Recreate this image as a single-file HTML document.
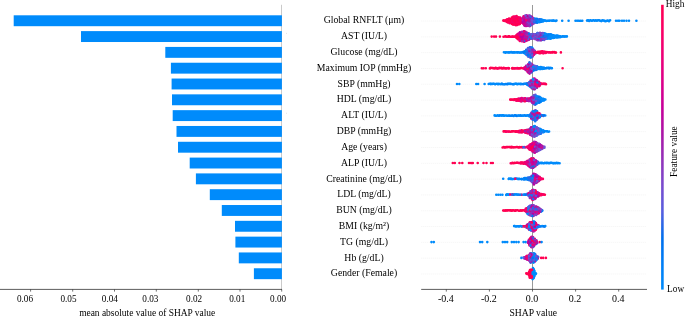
<!DOCTYPE html><html><head><meta charset="utf-8"><title>SHAP summary</title>
<style>html,body{margin:0;padding:0;background:#fff}svg{display:block}text{font-family:"Liberation Serif","DejaVu Serif",serif;fill:#000}</style></head><body>
<svg width="685" height="317" viewBox="0 0 685 317">
<rect width="685" height="317" fill="#fff"/>
<defs><linearGradient id="cb" x1="0" y1="0" x2="0" y2="1"><stop offset="0.000" stop-color="#ff0051"/><stop offset="0.091" stop-color="#fa0065"/><stop offset="0.182" stop-color="#ec0078"/><stop offset="0.273" stop-color="#db008a"/><stop offset="0.364" stop-color="#c5009a"/><stop offset="0.455" stop-color="#aa17a7"/><stop offset="0.545" stop-color="#9233b9"/><stop offset="0.636" stop-color="#794cce"/><stop offset="0.727" stop-color="#575fdf"/><stop offset="0.818" stop-color="#006fed"/><stop offset="0.909" stop-color="#007ef6"/><stop offset="1.000" stop-color="#008bfb"/></linearGradient></defs>
<line x1="281.5" y1="4.8" x2="281.5" y2="289.4" stroke="#c4c4c4" stroke-width="0.9"/>
<g id="bars" fill="#008bfb">
<rect x="13.7" y="15.30" width="268.2" height="10.9"/>
<rect x="81.0" y="31.11" width="200.9" height="10.9"/>
<rect x="165.3" y="46.92" width="116.6" height="10.9"/>
<rect x="170.9" y="62.73" width="111.0" height="10.9"/>
<rect x="171.6" y="78.54" width="110.3" height="10.9"/>
<rect x="172.0" y="94.35" width="109.9" height="10.9"/>
<rect x="172.7" y="110.16" width="109.2" height="10.9"/>
<rect x="176.5" y="125.97" width="105.4" height="10.9"/>
<rect x="178.0" y="141.78" width="103.9" height="10.9"/>
<rect x="189.7" y="157.59" width="92.2" height="10.9"/>
<rect x="195.9" y="173.40" width="86.0" height="10.9"/>
<rect x="209.8" y="189.21" width="72.1" height="10.9"/>
<rect x="221.8" y="205.02" width="60.1" height="10.9"/>
<rect x="235.0" y="220.83" width="46.9" height="10.9"/>
<rect x="235.4" y="236.64" width="46.5" height="10.9"/>
<rect x="238.8" y="252.45" width="43.1" height="10.9"/>
<rect x="253.9" y="268.26" width="28.0" height="10.9"/>
</g>
<line x1="0" y1="289.4" x2="282" y2="289.4" stroke="#333" stroke-width="0.8"/>
<line x1="281.7" y1="289.4" x2="281.7" y2="291.6" stroke="#333" stroke-width="0.7"/>
<text transform="translate(278.10 301.70) scale(1 1.160)" font-size="9.20" text-anchor="middle">0.00</text>
<line x1="240.0" y1="289.4" x2="240.0" y2="291.6" stroke="#333" stroke-width="0.7"/>
<text transform="translate(237.20 301.70) scale(1 1.160)" font-size="9.20" text-anchor="middle">0.01</text>
<line x1="198.3" y1="289.4" x2="198.3" y2="291.6" stroke="#333" stroke-width="0.7"/>
<text transform="translate(194.10 301.70) scale(1 1.160)" font-size="9.20" text-anchor="middle">0.02</text>
<line x1="156.3" y1="289.4" x2="156.3" y2="291.6" stroke="#333" stroke-width="0.7"/>
<text transform="translate(150.40 301.70) scale(1 1.160)" font-size="9.20" text-anchor="middle">0.03</text>
<line x1="114.5" y1="289.4" x2="114.5" y2="291.6" stroke="#333" stroke-width="0.7"/>
<text transform="translate(109.90 301.70) scale(1 1.160)" font-size="9.20" text-anchor="middle">0.04</text>
<line x1="72.7" y1="289.4" x2="72.7" y2="291.6" stroke="#333" stroke-width="0.7"/>
<text transform="translate(68.50 301.70) scale(1 1.160)" font-size="9.20" text-anchor="middle">0.05</text>
<line x1="30.6" y1="289.4" x2="30.6" y2="291.6" stroke="#333" stroke-width="0.7"/>
<text transform="translate(25.00 301.70) scale(1 1.160)" font-size="9.20" text-anchor="middle">0.06</text>
<text transform="translate(147.20 316.00) scale(1 1.060)" font-size="9.45" text-anchor="middle">mean absolute value of SHAP value</text>
<g fill="#c8c8c8"><rect x="286" y="32.9" width="0.7" height="0.7"/><rect x="286" y="112.8" width="0.7" height="0.7"/></g>
<text transform="translate(364.00 23.40) scale(1 1.085)" font-size="9.76" text-anchor="middle">Global RNFLT (μm)</text>
<text transform="translate(364.00 39.21) scale(1 1.085)" font-size="9.76" text-anchor="middle">AST (IU/L)</text>
<text transform="translate(364.00 55.02) scale(1 1.085)" font-size="9.76" text-anchor="middle">Glucose (mg/dL)</text>
<text transform="translate(364.00 70.83) scale(1 1.085)" font-size="9.76" text-anchor="middle">Maximum IOP (mmHg)</text>
<text transform="translate(364.00 86.64) scale(1 1.085)" font-size="9.76" text-anchor="middle">SBP (mmHg)</text>
<text transform="translate(364.00 102.45) scale(1 1.085)" font-size="9.76" text-anchor="middle">HDL (mg/dL)</text>
<text transform="translate(364.00 118.26) scale(1 1.085)" font-size="9.76" text-anchor="middle">ALT (IU/L)</text>
<text transform="translate(364.00 134.07) scale(1 1.085)" font-size="9.76" text-anchor="middle">DBP (mmHg)</text>
<text transform="translate(364.00 149.88) scale(1 1.085)" font-size="9.76" text-anchor="middle">Age (years)</text>
<text transform="translate(364.00 165.69) scale(1 1.085)" font-size="9.76" text-anchor="middle">ALP (IU/L)</text>
<text transform="translate(364.00 181.50) scale(1 1.085)" font-size="9.76" text-anchor="middle">Creatinine (mg/dL)</text>
<text transform="translate(364.00 197.31) scale(1 1.085)" font-size="9.76" text-anchor="middle">LDL (mg/dL)</text>
<text transform="translate(364.00 213.12) scale(1 1.085)" font-size="9.76" text-anchor="middle">BUN (mg/dL)</text>
<text transform="translate(364.00 228.93) scale(1 1.085)" font-size="9.76" text-anchor="middle">BMI (kg/m²)</text>
<text transform="translate(364.00 244.74) scale(1 1.085)" font-size="9.76" text-anchor="middle">TG (mg/dL)</text>
<text transform="translate(364.00 260.55) scale(1 1.085)" font-size="9.76" text-anchor="middle">Hb (g/dL)</text>
<text transform="translate(364.00 276.36) scale(1 1.085)" font-size="9.76" text-anchor="middle">Gender (Female)</text>
<g stroke="#dedede" stroke-width="0.5" stroke-dasharray="0.7 1.3">
<line x1="421.5" y1="21.00" x2="646" y2="21.00"/>
<line x1="421.5" y1="36.81" x2="646" y2="36.81"/>
<line x1="421.5" y1="52.62" x2="646" y2="52.62"/>
<line x1="421.5" y1="68.43" x2="646" y2="68.43"/>
<line x1="421.5" y1="84.24" x2="646" y2="84.24"/>
<line x1="421.5" y1="100.05" x2="646" y2="100.05"/>
<line x1="421.5" y1="115.86" x2="646" y2="115.86"/>
<line x1="421.5" y1="131.67" x2="646" y2="131.67"/>
<line x1="421.5" y1="147.48" x2="646" y2="147.48"/>
<line x1="421.5" y1="163.29" x2="646" y2="163.29"/>
<line x1="421.5" y1="179.10" x2="646" y2="179.10"/>
<line x1="421.5" y1="194.91" x2="646" y2="194.91"/>
<line x1="421.5" y1="210.72" x2="646" y2="210.72"/>
<line x1="421.5" y1="226.53" x2="646" y2="226.53"/>
<line x1="421.5" y1="242.34" x2="646" y2="242.34"/>
<line x1="421.5" y1="258.15" x2="646" y2="258.15"/>
<line x1="421.5" y1="273.96" x2="646" y2="273.96"/>
</g>
<line x1="532.5" y1="5" x2="532.5" y2="289.4" stroke="#999" stroke-width="1"/>
<g fill="none" stroke-linecap="round" stroke-width="2.60"><path d="M528.7 146.9h0M520.5 162.6h0M517.3 99.3h0M513.7 21.6h0M513.3 22.8h0M537.1 194.9h0M521.0 163.2h0M505.0 36.5h0M536.6 87.8h0M511.0 20.1h0M543.9 194.5h0M545.3 83.7h0M497.3 68.4h0M520.9 99.4h0M517.0 19.3h0M526.0 68.3h0M513.0 18.9h0M516.5 99.3h0M513.9 19.5h0M520.3 18.9h0M515.3 36.8h0M517.0 21.2h0M519.9 35.5h0M518.2 22.9h0M539.1 179.6h0M531.6 147.2h0M517.0 20.6h0M534.0 151.9h0M515.7 131.4h0M513.4 19.9h0M510.1 20.4h0M519.9 24.0h0M509.5 22.1h0M520.2 39.1h0M518.3 132.1h0M514.5 23.0h0M511.0 21.3h0M515.2 131.5h0M507.5 19.4h0M532.9 222.8h0M540.2 114.8h0M535.2 242.8h0" stroke="#fc0061"/><path d="M517.4 147.0h0M560.9 52.4h0M512.7 17.9h0M543.0 194.6h0M519.9 68.4h0M529.6 222.9h0M510.2 147.0h0M515.5 19.5h0M562.6 68.2h0M505.4 68.3h0M554.2 52.1h0M494.1 36.6h0M529.9 270.6h0M545.3 52.0h0M486.5 163.0h0M541.2 257.9h0M531.1 271.9h0M509.1 18.5h0M518.8 19.5h0M504.3 131.3h0M534.3 81.2h0M531.1 244.8h0M532.5 143.1h0M519.4 18.0h0M526.3 273.4h0M527.6 160.9h0M504.2 210.6h0M532.1 148.6h0M540.4 51.7h0M533.3 245.6h0M531.8 239.7h0M469.0 163.0h0M519.3 147.2h0M514.9 24.5h0M510.5 210.4h0M529.7 276.8h0M524.7 39.4h0M511.0 99.7h0M507.5 131.5h0M529.9 271.9h0M462.3 163.0h0M507.7 210.3h0M511.9 22.9h0M515.7 131.8h0M556.0 52.6h0M542.5 51.4h0M508.3 68.1h0M505.3 131.4h0M529.2 273.6h0M517.5 22.4h0M546.9 52.1h0M524.1 147.0h0M523.5 37.7h0M531.8 272.2h0" stroke="#ff0051"/><path d="M531.6 53.5h0M624.0 20.8h0M539.3 102.8h0M531.7 180.2h0M517.9 179.0h0M512.4 194.4h0M539.9 22.1h0M534.4 119.5h0M558.9 36.1h0M542.3 67.6h0M518.7 226.2h0M544.1 163.1h0M535.8 134.7h0M595.8 20.3h0M552.7 35.5h0M551.8 35.8h0M561.2 36.5h0M540.5 68.9h0M533.2 238.6h0M544.8 162.9h0M553.4 20.6h0M484.6 84.0h0M509.1 178.6h0M537.3 117.0h0M546.5 163.1h0M544.5 131.2h0M533.7 52.9h0M607.9 20.6h0M534.3 272.3h0M547.4 20.7h0M518.8 115.6h0M526.8 178.4h0M533.6 19.6h0M533.9 114.9h0M544.1 67.9h0M550.1 67.9h0M498.9 115.8h0M459.3 84.0h0M537.0 68.7h0M502.8 242.1h0M536.8 69.6h0M544.7 33.3h0M541.6 163.1h0M534.3 116.5h0M538.9 67.9h0M558.3 163.0h0M550.6 38.7h0M533.7 18.2h0M532.6 278.3h0M514.1 84.2h0M553.2 36.4h0M568.6 20.8h0M510.1 52.2h0M487.3 242.1h0M552.1 36.1h0M532.7 177.4h0M533.9 269.2h0M622.0 20.8h0M433.8 242.1h0M549.1 35.7h0M533.4 273.4h0M514.7 226.0h0M529.1 258.3h0M541.1 129.6h0M556.5 20.5h0M525.2 194.5h0M565.8 36.5h0M532.5 271.5h0M537.2 129.5h0M527.8 179.7h0M505.6 52.6h0M545.3 115.5h0M546.2 163.0h0M522.3 115.6h0M533.9 277.3h0M548.1 20.8h0M545.3 20.6h0M518.6 242.1h0M521.3 194.8h0M588.1 20.4h0M555.0 163.0h0M532.5 22.3h0M539.8 226.3h0M553.2 163.2h0M549.6 163.2h0M534.1 67.0h0M560.3 36.2h0M537.1 66.4h0M535.4 260.9h0M619.5 20.8h0M500.4 194.7h0M515.4 115.4h0M533.0 268.1h0M541.7 98.7h0M536.3 244.0h0M537.2 20.6h0M517.8 194.7h0M512.1 52.5h0M541.7 131.4h0" stroke="#008bfb"/><path d="M530.5 128.4h0M532.5 88.4h0M534.9 191.2h0M534.2 195.8h0M538.1 179.2h0M521.8 101.2h0M530.7 160.7h0M529.3 225.1h0M534.3 178.0h0M537.3 40.1h0M536.0 206.5h0M524.9 21.7h0M537.9 116.6h0M534.8 162.7h0M532.1 127.9h0M529.4 161.5h0M538.6 39.5h0M530.8 161.9h0M535.8 182.9h0M528.1 21.2h0M531.2 67.5h0M535.5 142.1h0M524.5 24.3h0M519.6 194.7h0M532.9 241.2h0M536.4 240.2h0M533.2 116.2h0M534.3 102.3h0M532.4 113.1h0M536.4 242.8h0M535.7 36.9h0M533.6 231.4h0M530.9 225.0h0M534.4 183.3h0" stroke="#a71aa9"/><path d="M532.1 83.0h0M529.5 131.0h0M531.2 166.4h0M530.2 25.9h0M529.3 242.4h0M528.3 49.8h0M533.2 167.7h0M541.3 37.1h0M541.5 115.1h0M533.2 144.9h0M531.9 177.6h0M536.6 35.9h0M527.2 36.1h0M537.3 117.6h0M525.7 34.8h0M530.0 22.8h0M529.9 18.5h0M539.4 176.7h0M531.5 36.0h0M536.9 119.5h0M537.0 87.7h0M533.1 211.8h0M542.3 147.8h0M536.9 148.9h0M529.1 16.5h0M525.9 17.6h0M525.1 38.3h0M531.3 85.5h0M539.0 195.5h0M534.3 104.1h0M531.9 50.3h0M525.1 147.5h0M536.4 148.9h0M530.9 228.3h0M530.7 165.4h0" stroke="#9430b6"/><path d="M530.2 21.4h0M533.2 35.0h0M530.1 134.7h0M538.2 85.2h0M531.8 97.8h0M534.0 194.5h0M528.4 208.9h0M522.1 20.9h0M523.2 98.9h0M527.7 18.4h0M533.7 149.3h0M538.7 148.9h0M529.2 24.0h0M530.9 149.7h0M531.4 196.8h0M536.3 114.4h0M532.9 52.9h0M535.3 142.8h0M534.7 238.8h0M525.5 68.4h0M532.7 84.5h0M528.4 212.4h0M524.4 25.6h0M535.6 228.5h0M521.8 34.0h0M524.2 25.2h0" stroke="#cd0095"/><path d="M529.5 53.2h0M535.7 53.2h0M537.2 20.2h0M527.6 177.8h0M536.3 117.2h0M528.4 257.9h0M541.4 36.3h0M530.7 262.7h0M532.2 71.3h0M533.9 254.4h0M539.3 129.6h0M536.7 162.0h0M537.3 97.3h0M537.6 226.0h0M535.6 38.4h0M536.2 128.1h0M543.4 115.9h0M537.9 161.9h0M527.5 194.9h0M535.5 67.9h0M526.3 19.1h0M527.2 83.3h0M534.9 133.1h0M536.2 112.5h0M534.8 222.0h0M534.9 101.4h0M536.9 212.6h0M532.1 261.7h0M533.8 37.3h0M531.8 48.5h0M531.8 257.1h0M531.8 225.6h0M530.7 213.3h0M531.0 191.2h0" stroke="#266cea"/><path d="M534.7 261.1h0M536.9 161.3h0M528.9 206.7h0M520.9 35.0h0M534.5 258.6h0M533.5 241.1h0M526.6 54.0h0M534.5 240.1h0M529.5 178.6h0M534.5 99.1h0M535.2 82.5h0M522.6 34.1h0M524.9 18.6h0M539.5 128.8h0M526.2 70.3h0M531.5 257.6h0M535.6 130.0h0M535.6 211.2h0M532.4 64.9h0M528.9 213.1h0M525.0 23.8h0M528.1 17.7h0M542.2 37.3h0M536.8 211.2h0M537.2 145.7h0M519.8 34.2h0M524.4 100.5h0M529.4 26.1h0M536.4 38.8h0M533.7 101.2h0M529.2 56.0h0M530.8 159.0h0M533.8 131.7h0M535.5 110.3h0" stroke="#8542c5"/><path d="M541.8 115.8h0M529.7 213.6h0M537.8 196.5h0M530.2 35.4h0M531.9 175.8h0M532.2 98.6h0M529.9 207.9h0M541.4 34.2h0M539.1 143.7h0M534.5 97.2h0M531.7 101.8h0M525.8 23.9h0M523.8 24.1h0M536.6 103.5h0M536.4 102.4h0M538.2 257.1h0M533.5 117.9h0M530.3 179.3h0M539.4 147.3h0M533.6 242.8h0M542.7 39.0h0M534.3 95.4h0M528.3 71.0h0M532.5 246.3h0M529.1 227.8h0M531.2 20.0h0M532.5 119.5h0M537.0 119.0h0M532.8 52.2h0M528.1 211.2h0M532.2 259.7h0" stroke="#6f52d4"/><path d="M535.4 51.8h0M521.2 21.9h0M537.6 192.3h0M529.0 37.5h0M527.9 242.7h0M535.4 147.9h0M530.2 205.9h0M530.9 193.0h0M533.0 130.5h0M535.3 166.2h0M534.6 194.0h0M530.8 22.1h0M534.6 53.6h0M532.4 194.1h0M519.3 100.6h0M526.6 99.6h0M527.2 161.3h0M530.2 19.6h0M535.7 181.0h0M530.8 261.0h0M526.5 15.4h0M534.9 88.8h0M537.8 258.5h0M525.4 19.0h0M534.8 226.1h0M534.9 241.8h0M537.1 209.8h0M535.9 195.4h0M533.4 215.9h0" stroke="#b900a0"/><path d="M533.8 51.1h0M530.7 70.2h0M530.9 194.4h0M530.4 148.8h0M528.4 256.1h0M532.6 229.9h0M520.2 100.1h0M536.2 181.4h0M528.0 33.4h0M525.3 99.6h0M523.6 20.4h0M525.5 257.2h0M539.8 179.8h0M535.4 225.3h0M525.8 41.0h0M529.8 160.8h0M538.0 118.2h0M522.1 22.4h0M539.1 86.2h0M526.4 147.1h0M530.8 68.4h0M537.9 84.2h0M534.6 146.5h0M523.9 100.9h0M522.3 19.9h0M529.7 159.6h0M532.6 164.0h0M532.4 198.3h0M525.9 226.1h0M535.7 79.9h0M538.2 82.0h0" stroke="#dd0088"/><path d="M541.5 100.7h0M535.7 256.0h0M524.1 52.9h0M537.5 256.6h0M535.7 260.2h0M541.3 19.6h0M540.4 20.1h0M537.2 35.4h0M539.7 67.9h0M543.1 68.8h0M509.7 115.8h0M524.3 115.4h0M533.5 117.1h0M531.3 229.6h0M530.4 212.5h0M540.8 38.3h0M513.2 52.4h0M532.3 208.0h0M519.3 84.0h0M521.7 84.0h0M534.9 85.7h0M537.1 19.2h0M542.9 131.2h0M548.1 68.0h0M523.6 84.0h0M532.8 258.7h0M540.6 100.9h0M539.9 19.3h0M533.9 81.8h0M540.8 67.1h0M519.1 178.9h0M531.9 179.2h0M543.5 67.9h0M530.2 180.0h0M528.5 179.1h0M535.8 224.4h0M529.2 241.5h0M523.9 178.6h0M528.7 51.9h0M542.1 115.4h0" stroke="#0081f7"/><path d="M526.0 39.6h0M527.3 225.1h0M534.7 180.9h0M530.4 166.0h0M519.0 38.8h0M524.1 163.5h0M524.6 38.5h0M537.9 115.7h0M523.2 23.5h0M523.9 32.6h0M534.4 194.9h0M531.2 81.7h0" stroke="#e9007c"/><path d="M530.7 84.3h0M539.9 179.2h0M530.7 162.8h0M531.1 246.3h0M538.9 114.1h0M520.0 98.7h0M534.5 128.8h0M517.4 34.2h0M529.5 148.7h0M536.2 196.7h0M531.0 258.0h0M533.7 175.5h0M519.5 132.2h0M513.1 194.6h0M518.4 39.5h0M537.3 196.1h0M520.3 20.8h0" stroke="#f4006e"/><path d="M535.9 22.6h0M541.8 148.9h0M545.9 36.3h0M534.6 69.4h0M543.3 33.4h0M534.6 133.8h0M537.0 83.2h0M535.1 224.1h0M533.2 165.1h0M528.3 56.7h0M530.4 206.5h0M531.3 70.1h0M531.8 35.1h0M533.8 178.6h0M533.0 48.9h0M534.5 165.3h0M538.3 131.9h0M536.3 259.9h0M530.5 54.0h0M531.1 36.4h0M530.9 55.3h0M537.2 101.6h0M539.6 210.2h0" stroke="#5261e1"/><path d="M532.5 117.7h0M534.6 229.3h0M535.5 95.7h0M527.4 193.9h0M546.7 34.3h0M539.5 132.2h0M531.0 176.7h0M546.0 35.3h0M531.7 205.4h0M536.1 212.6h0M528.9 115.8h0M533.7 115.2h0M526.6 55.0h0M532.3 70.4h0M530.1 241.7h0M529.3 129.6h0M541.9 130.9h0M535.9 67.3h0M530.2 129.0h0M540.8 226.5h0" stroke="#0077f2"/><path d="M536.0 132.0h0M532.9 34.1h0M529.2 35.9h0M524.7 34.7h0M538.2 38.3h0M526.3 257.3h0M534.5 178.7h0M522.6 100.7h0M538.5 178.2h0M527.8 17.3h0M524.5 16.0h0M529.8 243.7h0M534.8 176.1h0M535.0 165.6h0M532.9 136.2h0M521.7 100.4h0M533.1 181.4h0M534.7 136.6h0M534.5 164.2h0M527.0 209.9h0M531.2 53.6h0M537.8 33.9h0M531.2 21.1h0M536.9 39.2h0M527.8 66.1h0M530.8 208.4h0M535.2 208.9h0M528.2 19.2h0M535.5 83.5h0M535.4 146.0h0M537.8 210.1h0M533.4 205.4h0M531.2 255.8h0" stroke="#9430b6"/><path d="M532.6 99.6h0M528.3 256.8h0M529.4 22.3h0M535.5 150.3h0M535.4 148.5h0M525.4 25.9h0M527.6 164.0h0M532.7 85.4h0M528.9 160.9h0M528.2 53.0h0M526.4 259.1h0M531.9 88.1h0M537.5 175.8h0M533.5 192.7h0M531.2 16.5h0M527.2 162.6h0M535.6 87.0h0M531.6 241.9h0M532.5 151.5h0M534.5 79.7h0M528.1 99.5h0M529.0 164.3h0M531.7 236.7h0M526.1 98.7h0M532.3 166.7h0M536.8 37.8h0M529.1 69.1h0M529.3 259.3h0M528.4 228.3h0M536.6 179.8h0M537.5 146.1h0M534.5 197.1h0M532.3 214.7h0M535.8 208.3h0" stroke="#a71aa9"/><path d="M534.4 174.0h0M531.3 146.3h0M528.9 64.3h0M530.8 69.0h0M533.2 239.6h0M531.6 214.7h0M534.0 214.7h0M521.9 130.9h0M530.8 145.2h0M522.1 37.2h0M528.3 36.8h0M530.1 260.9h0M531.3 211.5h0M526.4 35.3h0M526.5 69.0h0M542.3 194.3h0M534.5 225.1h0" stroke="#e9007c"/><path d="M533.2 134.8h0M536.7 134.0h0M526.7 210.9h0M525.4 23.0h0M530.8 47.4h0M538.2 133.6h0M530.2 244.7h0M532.7 82.5h0M537.2 130.7h0M528.4 211.1h0M537.6 146.6h0M535.7 101.6h0M527.4 50.7h0M528.2 51.1h0M527.0 194.4h0M534.9 69.7h0M532.0 82.2h0M536.7 213.4h0M540.6 33.6h0M528.0 48.0h0M529.8 56.9h0M534.1 112.6h0M526.4 21.1h0M527.8 226.5h0M535.4 94.8h0" stroke="#5261e1"/><path d="M533.0 176.4h0M540.5 209.8h0M533.6 128.4h0M533.0 86.7h0M526.1 36.8h0M531.1 19.3h0M527.3 55.2h0M536.7 112.3h0M536.5 82.5h0M524.8 19.8h0M530.9 83.7h0M524.6 17.8h0M532.2 102.8h0M533.4 214.8h0M537.0 115.0h0M529.2 49.6h0M537.4 181.8h0M526.5 38.6h0M530.3 159.9h0M537.0 80.3h0M523.3 21.6h0M534.7 199.1h0M534.8 53.0h0M534.3 66.0h0M526.7 34.1h0M539.9 39.1h0M536.5 227.4h0M533.1 179.6h0M536.0 114.9h0M535.5 149.6h0M535.5 34.2h0M527.6 129.7h0M540.1 208.9h0" stroke="#8542c5"/><path d="M566.9 36.4h0M519.2 226.5h0M532.9 83.4h0M532.7 225.6h0M578.9 20.8h0M538.1 128.3h0M527.7 49.4h0M543.5 20.9h0M536.5 163.3h0M502.1 115.4h0M535.3 178.1h0M511.8 242.1h0M516.8 178.6h0M604.6 20.9h0M506.5 52.3h0M529.4 195.9h0M536.0 273.6h0M541.0 99.8h0M508.5 194.5h0M517.6 52.5h0M549.6 35.5h0M534.9 19.0h0M505.3 52.5h0M548.5 131.7h0M532.6 270.5h0M530.9 117.0h0M542.7 38.0h0M546.8 131.2h0M534.5 271.0h0M592.5 20.6h0M544.2 35.4h0M506.5 115.6h0M508.7 179.0h0M516.3 242.1h0M529.5 116.4h0M532.6 279.1h0M543.1 21.5h0M533.3 113.1h0M536.9 114.2h0M532.4 111.6h0M508.7 52.3h0M555.7 21.0h0M532.8 118.1h0M505.3 115.5h0M457.0 84.0h0M503.5 115.5h0M582.3 20.8h0M601.3 21.1h0M503.2 178.8h0M636.4 20.8h0M535.4 116.0h0M556.7 162.8h0M618.0 20.8h0M540.4 68.4h0M538.0 99.9h0M537.6 96.5h0M549.1 131.5h0M541.0 35.8h0M541.2 211.6h0M547.4 162.9h0M551.4 162.8h0M543.6 100.4h0M545.8 131.2h0M554.0 36.7h0M513.3 84.1h0M508.6 83.9h0M488.7 84.0h0M498.6 115.7h0M495.5 115.8h0M551.6 34.9h0M535.4 273.0h0M533.5 275.3h0M542.1 131.9h0M510.9 178.6h0M593.6 20.3h0M527.4 54.1h0M600.2 20.7h0M533.9 180.6h0M528.3 84.1h0M580.6 20.8h0M532.5 210.7h0M552.5 37.2h0M532.6 212.0h0M526.3 115.8h0M516.9 115.9h0M540.8 101.8h0M431.5 242.1h0M547.2 35.7h0M534.6 128.1h0M589.2 20.9h0M517.5 84.2h0M547.0 38.7h0M553.3 35.4h0M533.1 119.8h0M532.7 269.3h0M532.8 273.3h0M610.1 20.3h0M514.1 52.3h0M480.0 242.1h0M533.4 246.8h0" stroke="#008bfb"/><path d="M517.2 35.5h0M504.5 68.2h0M530.1 272.8h0M531.6 271.1h0M536.0 143.6h0M514.9 23.5h0M521.0 68.0h0M539.9 242.1h0M520.8 210.4h0M513.4 147.3h0M529.4 275.4h0M521.3 163.3h0M506.1 68.4h0M516.4 147.0h0M537.2 194.3h0M529.3 244.4h0M505.7 36.3h0M546.0 84.2h0M530.7 269.8h0M522.0 147.0h0M513.7 16.9h0M483.5 163.0h0M504.3 147.3h0M529.8 277.7h0M504.8 20.9h0M530.7 272.9h0M499.3 67.9h0M523.9 226.2h0M503.5 36.7h0M531.5 272.8h0M509.4 147.1h0M538.4 181.3h0M530.9 194.9h0M509.0 68.4h0M520.7 35.8h0M508.5 21.8h0M491.0 163.0h0M509.3 131.5h0M510.4 19.4h0M506.5 36.8h0M496.0 36.6h0M508.9 210.2h0M515.6 25.1h0M499.7 68.3h0M515.0 99.9h0M521.3 68.0h0M530.1 239.7h0M516.6 16.1h0M502.5 68.4h0M512.4 19.6h0M533.7 196.6h0M541.7 83.8h0M552.6 52.1h0M535.3 84.3h0M540.0 195.2h0M536.0 229.6h0M541.1 195.1h0M544.5 83.9h0M452.8 163.0h0M533.3 224.8h0M532.6 114.6h0M539.8 85.4h0M516.4 37.8h0M540.1 84.2h0M518.0 68.4h0M489.9 68.4h0M532.5 149.6h0M521.3 210.6h0M549.4 52.3h0M515.7 36.0h0M492.1 68.0h0M516.5 23.0h0M531.6 273.4h0" stroke="#ff0051"/><path d="M533.7 253.2h0M538.5 226.8h0M524.8 179.2h0M530.4 177.3h0M532.0 226.9h0M535.3 18.9h0M545.4 68.2h0M540.5 98.6h0M515.8 83.8h0M533.7 213.7h0M523.2 84.0h0M533.7 87.6h0M539.8 100.3h0M507.4 83.9h0M537.1 111.4h0M546.2 34.1h0M541.6 19.9h0M540.9 131.5h0M536.8 210.7h0M538.4 21.0h0M533.8 89.1h0M544.6 34.2h0M536.0 151.7h0M524.7 83.8h0M533.8 259.0h0M532.7 240.4h0" stroke="#0081f7"/><path d="M534.2 197.5h0M530.2 228.1h0M521.0 20.8h0M524.8 16.9h0M531.4 37.9h0M528.2 64.4h0M532.8 102.7h0M531.7 176.8h0M526.7 26.0h0M523.1 21.0h0M530.3 164.6h0M532.5 145.0h0M526.1 162.9h0M527.3 100.7h0M531.6 97.0h0M530.9 227.1h0M537.0 146.7h0M522.9 18.8h0M534.1 141.9h0M526.8 164.3h0M539.9 115.5h0M534.5 78.6h0M538.3 195.2h0M538.7 116.3h0M533.4 143.1h0M534.7 80.3h0M525.7 130.2h0" stroke="#cd0095"/><path d="M507.2 68.3h0M522.6 147.4h0M532.7 200.0h0M514.8 18.7h0M518.2 36.0h0M506.8 19.5h0M513.8 24.5h0M523.9 130.7h0M510.5 21.5h0M509.7 19.4h0M524.4 162.5h0M543.6 83.8h0M539.3 53.2h0M529.8 146.0h0M519.5 99.6h0M516.5 18.4h0M507.6 20.2h0M544.6 51.8h0M537.6 52.4h0M532.6 256.1h0M545.6 53.0h0M515.8 20.4h0M513.6 22.9h0M520.2 20.0h0M526.4 130.1h0M517.7 36.6h0M508.6 131.6h0" stroke="#fc0061"/><path d="M534.6 130.8h0M527.3 51.5h0M534.7 257.1h0M533.2 21.5h0M529.1 48.8h0M544.6 38.5h0M540.2 133.8h0M542.3 35.3h0M534.9 192.4h0M530.1 50.1h0M528.3 53.6h0M531.2 213.7h0M533.7 99.5h0M534.2 113.5h0M533.1 20.1h0M529.5 54.2h0M535.1 100.9h0M535.8 70.0h0M532.0 49.4h0M535.6 98.2h0M529.2 177.6h0M530.9 87.2h0M528.1 85.2h0M538.8 38.5h0" stroke="#266cea"/><path d="M531.5 245.7h0M532.7 150.4h0M536.8 178.6h0M531.3 98.3h0M530.7 86.1h0M533.5 257.8h0M532.0 165.2h0M531.6 244.6h0M528.5 194.9h0M535.1 190.2h0M534.0 80.6h0M531.0 133.6h0M521.1 34.1h0M530.8 256.7h0M527.3 69.4h0M535.5 145.0h0M533.0 206.1h0M536.2 150.9h0M532.2 228.3h0M536.7 176.2h0M529.7 163.7h0M528.4 133.3h0M531.3 145.4h0M529.1 71.3h0M529.8 256.5h0M528.5 98.9h0M534.7 196.1h0M528.1 35.9h0" stroke="#dd0088"/><path d="M536.0 38.0h0M516.3 115.8h0M530.3 55.4h0M533.6 261.4h0M543.9 226.4h0M539.4 211.2h0M541.0 133.4h0M537.3 209.0h0M545.2 38.8h0M538.3 212.0h0M542.2 210.4h0M539.6 37.4h0M511.9 115.8h0M538.4 98.2h0M538.4 98.8h0M530.0 114.7h0M530.8 51.7h0M542.8 226.3h0M532.5 206.9h0M538.6 163.2h0M533.5 112.3h0M533.2 131.3h0" stroke="#0077f2"/><path d="M535.2 160.8h0M536.1 242.0h0M534.4 142.5h0M534.0 191.9h0M529.1 63.3h0M530.9 65.5h0M540.5 149.6h0M528.9 100.0h0M533.6 174.5h0M534.0 135.3h0M533.8 222.6h0M529.1 67.2h0M526.6 227.7h0M531.9 56.0h0M532.9 230.8h0M535.4 254.6h0M538.1 113.5h0M532.0 255.8h0M519.4 33.8h0M540.4 37.6h0M532.6 259.8h0M542.4 39.7h0M534.1 129.5h0M527.5 211.8h0M533.0 127.0h0M531.6 255.3h0M530.0 242.4h0M523.6 17.3h0M531.2 181.2h0M529.5 196.3h0M535.0 208.2h0M540.0 40.2h0M534.0 224.2h0M537.5 163.8h0M534.0 23.2h0M528.2 24.8h0M526.2 211.8h0M527.3 16.6h0M530.1 257.3h0M531.4 50.6h0M538.4 40.2h0M535.5 151.7h0" stroke="#6f52d4"/><path d="M534.9 212.9h0M525.8 40.2h0M531.3 159.4h0M519.2 34.4h0M533.9 255.2h0M529.7 64.8h0M536.8 182.5h0M526.2 164.1h0M528.9 17.3h0M528.7 34.7h0M534.2 145.7h0M528.3 193.9h0M528.9 65.1h0M533.1 69.9h0M537.7 128.9h0M529.3 257.7h0M535.4 144.2h0M541.6 146.5h0M534.5 85.0h0M537.5 84.4h0M533.1 196.9h0M534.2 35.5h0M538.5 225.4h0M530.2 98.2h0M533.2 228.7h0M529.0 100.9h0M534.0 159.2h0M529.1 39.6h0M530.8 66.6h0M533.1 192.4h0M536.6 180.5h0M531.3 131.3h0" stroke="#b900a0"/><path d="M521.3 37.8h0M531.3 132.4h0M537.7 148.8h0M518.8 21.3h0M523.2 131.6h0M517.9 19.5h0M510.9 19.4h0M525.5 36.8h0M523.7 23.4h0M515.6 99.5h0M531.4 150.2h0M520.9 22.7h0M513.8 18.6h0M512.1 21.4h0M529.4 162.5h0M534.0 82.4h0M529.4 215.0h0M519.0 37.7h0" stroke="#f4006e"/><path d="M539.0 114.6h0M538.7 207.9h0M534.3 87.5h0M532.6 68.7h0M543.3 39.5h0M533.4 165.9h0M538.1 36.8h0M536.2 97.1h0M511.7 194.6h0M538.1 114.7h0M532.6 37.1h0M537.4 33.1h0M529.0 85.4h0M533.2 67.9h0M534.5 182.4h0M540.5 33.2h0M526.0 209.9h0M540.0 35.4h0M533.0 55.0h0M531.2 207.4h0M532.3 67.5h0M534.3 21.7h0M536.7 135.8h0M531.1 253.3h0M534.1 134.2h0M526.2 49.8h0M529.3 207.0h0M530.2 210.6h0M532.6 227.9h0M548.2 35.3h0M530.2 130.9h0M538.9 34.1h0M543.5 37.5h0" stroke="#266cea"/><path d="M535.2 210.8h0M543.0 53.3h0M531.8 242.6h0M481.8 68.2h0M517.7 20.3h0M532.8 197.9h0M525.2 163.1h0M519.0 210.7h0M530.8 237.7h0M499.9 36.6h0M541.6 178.7h0M527.2 273.9h0M550.9 52.6h0M512.1 36.7h0M491.7 36.6h0M529.1 162.7h0M516.0 17.5h0M518.3 35.3h0M512.1 210.6h0M524.1 131.6h0M535.7 165.3h0M503.8 147.0h0M511.0 21.9h0M540.9 83.6h0M534.7 239.5h0M538.9 81.8h0M512.4 162.8h0M531.1 276.9h0M528.8 272.9h0M517.8 131.2h0M513.0 131.4h0M517.0 131.7h0M523.0 210.2h0M525.3 163.8h0M534.1 227.5h0M533.8 242.0h0M515.5 147.2h0M531.7 275.5h0M515.3 68.2h0M552.1 52.4h0M514.5 36.8h0M513.2 210.3h0M492.8 163.0h0M521.4 162.6h0M513.9 131.2h0M515.3 210.7h0M530.6 274.6h0M524.9 226.4h0M525.6 132.6h0M511.1 147.5h0M517.7 17.6h0M533.5 146.9h0M530.9 274.0h0M512.0 24.0h0M529.2 271.7h0M528.9 274.8h0M545.9 257.9h0M516.5 22.0h0M541.3 179.3h0M511.8 163.2h0M529.0 193.1h0M512.1 131.3h0M530.3 83.4h0M538.1 193.4h0M511.2 18.7h0M459.5 163.0h0M509.9 210.3h0M533.7 145.5h0M521.5 130.4h0M519.5 130.8h0M513.1 20.8h0M518.6 131.1h0M526.9 209.0h0M483.6 68.2h0M515.1 18.0h0M515.9 100.1h0" stroke="#ff0051"/><path d="M534.7 126.8h0M529.6 211.2h0M538.5 19.8h0M533.5 260.6h0M534.3 100.0h0M533.7 85.4h0M538.9 97.9h0M543.9 115.3h0M536.8 18.9h0M536.7 67.4h0M529.8 35.9h0M541.7 40.0h0M535.8 21.4h0M531.2 178.6h0M535.6 259.2h0M534.0 132.4h0M536.4 21.6h0M531.3 115.5h0M530.3 207.6h0M533.4 118.9h0M521.5 38.2h0M539.5 131.6h0M537.2 193.1h0M529.9 196.0h0M534.9 129.9h0M536.6 195.5h0M521.4 52.5h0M540.3 101.2h0M540.9 130.8h0" stroke="#0077f2"/><path d="M528.9 239.7h0M534.6 89.2h0M536.2 256.0h0M536.0 80.7h0M533.8 177.5h0M533.0 127.8h0M530.2 258.4h0M533.6 147.6h0M535.9 142.6h0M535.6 128.1h0M533.5 173.7h0M533.0 195.9h0M531.2 118.4h0M531.2 24.4h0M532.5 210.2h0M538.3 39.1h0M532.1 23.7h0M527.2 24.6h0M524.7 35.8h0M534.0 161.2h0M531.3 209.2h0M526.8 22.1h0M523.9 35.8h0M526.7 100.8h0M536.2 145.9h0M520.1 99.5h0M525.7 19.9h0M538.1 83.0h0M537.6 145.1h0M535.7 207.1h0M532.1 131.5h0M532.1 81.1h0M524.4 258.4h0M523.9 41.0h0M533.2 134.4h0M534.0 209.3h0M534.2 163.2h0M524.3 41.8h0M523.5 35.1h0M536.6 81.8h0M531.1 127.4h0" stroke="#b900a0"/><path d="M530.3 226.5h0M533.6 103.9h0M537.8 33.1h0M532.3 56.7h0M535.1 114.4h0M531.1 100.5h0M528.4 35.5h0M537.6 132.3h0M543.3 147.5h0M528.8 38.3h0M531.2 34.6h0M525.5 226.7h0M535.2 104.7h0M538.0 144.3h0M539.9 34.1h0M532.8 128.5h0M526.4 24.8h0M539.3 134.0h0M531.7 65.0h0M525.9 52.8h0M535.3 102.7h0M534.2 115.6h0M532.9 261.4h0M535.7 81.0h0" stroke="#5261e1"/><path d="M526.0 162.1h0M523.5 40.1h0M521.9 132.4h0M523.5 41.4h0M521.8 99.1h0M528.1 147.8h0M519.3 98.9h0M519.4 36.4h0M521.9 194.8h0M530.7 80.6h0M523.5 37.2h0M531.2 192.3h0M539.4 113.3h0M530.0 222.2h0M524.0 67.9h0M534.1 144.3h0M518.5 98.5h0M537.0 35.9h0M521.1 32.9h0M528.2 22.4h0M534.7 160.0h0M534.8 164.2h0M521.1 132.0h0" stroke="#e9007c"/><path d="M517.0 52.3h0M529.0 84.3h0M548.3 37.3h0M543.2 132.2h0M540.1 102.0h0M534.9 259.8h0M550.6 37.7h0M534.2 228.4h0M527.1 84.6h0M538.8 117.6h0M512.4 115.5h0M532.8 81.4h0M527.9 115.4h0M545.9 36.7h0M536.4 68.0h0M510.2 84.0h0M524.4 40.4h0M533.0 80.7h0M520.5 115.3h0M525.8 179.1h0M532.8 260.6h0M538.1 68.2h0M503.0 84.3h0M538.0 133.1h0M531.5 246.7h0M549.6 37.7h0M542.0 37.8h0M521.4 115.8h0M543.6 99.0h0M537.0 98.2h0" stroke="#0081f7"/><path d="M515.5 178.6h0M524.7 52.3h0M540.7 36.4h0M559.4 36.3h0M536.5 37.3h0M508.0 52.5h0M534.3 111.7h0M528.6 55.8h0M587.0 20.6h0M537.9 67.4h0M536.3 100.5h0M616.0 20.8h0M555.1 37.0h0M516.2 194.6h0M534.4 257.6h0M559.8 37.2h0M564.8 36.4h0M520.4 226.0h0M496.3 194.7h0M541.6 242.1h0M534.5 37.4h0M516.5 194.4h0M557.3 35.9h0M533.5 70.5h0M562.2 20.8h0M497.9 84.3h0M555.9 37.3h0M542.5 100.6h0M549.7 20.6h0M512.0 179.1h0M563.1 36.4h0M494.0 83.8h0M551.8 20.8h0M535.3 257.9h0M544.3 99.5h0M534.6 275.0h0M533.7 278.1h0M626.5 20.8h0M543.6 20.2h0M533.8 213.0h0M504.2 115.7h0M543.9 68.8h0M532.8 239.2h0M533.6 272.2h0M476.3 84.0h0M492.3 84.0h0M536.8 194.9h0M548.4 67.9h0M538.1 101.6h0M509.8 194.5h0M533.6 182.5h0M551.5 68.0h0M536.6 207.3h0M534.6 83.3h0M552.2 37.9h0M554.4 20.7h0M509.3 52.5h0M542.2 226.0h0M517.6 226.2h0M506.2 194.9h0M489.7 83.8h0M511.2 52.1h0M540.0 68.9h0M524.2 194.6h0M552.9 20.6h0M546.9 67.9h0M534.6 273.1h0M553.8 163.1h0M534.5 276.1h0M514.3 178.9h0M529.4 225.7h0M530.3 259.1h0M539.1 98.8h0M539.3 22.0h0M542.9 98.7h0M518.4 52.2h0M507.2 242.1h0M554.4 37.8h0M564.3 36.8h0M551.2 20.5h0M537.5 210.8h0M520.0 179.0h0M549.0 20.7h0M490.7 84.1h0M539.3 20.7h0M518.2 194.6h0M532.4 212.9h0M501.5 83.9h0M542.4 100.0h0" stroke="#008bfb"/><path d="M519.8 40.9h0M513.2 21.4h0M520.2 17.6h0M516.6 35.3h0M542.0 51.6h0M508.3 22.4h0M523.7 68.4h0M519.3 19.0h0M516.0 23.3h0M512.2 18.7h0M533.3 158.2h0M517.2 68.1h0M508.9 20.5h0M518.2 18.1h0M505.8 131.7h0M530.6 147.4h0M528.8 145.8h0M518.6 17.2h0M521.0 101.3h0M506.5 20.6h0M540.7 84.3h0M514.8 16.5h0M533.3 151.3h0M522.8 130.7h0M516.6 68.4h0M513.3 23.8h0M520.1 163.3h0M518.7 163.0h0M543.8 51.7h0M532.2 130.4h0M516.0 22.5h0" stroke="#fc0061"/><path d="M539.7 114.7h0M532.7 35.2h0M537.0 177.7h0M530.7 255.2h0M539.1 37.3h0M522.6 37.9h0M532.7 65.9h0M527.8 38.2h0M532.9 100.9h0M525.6 258.7h0M537.5 213.8h0M527.5 98.5h0M523.3 38.9h0M528.0 25.7h0M534.8 261.6h0M529.4 209.2h0M528.3 131.2h0M538.7 130.2h0M527.1 258.9h0M525.8 21.7h0M536.2 257.7h0M529.7 82.5h0M536.4 117.9h0M522.1 31.8h0M534.2 152.5h0M526.9 66.9h0M527.5 34.2h0M535.3 118.9h0M536.8 225.5h0M537.3 179.4h0M531.2 210.7h0M534.7 50.9h0" stroke="#a71aa9"/><path d="M534.0 210.8h0M543.6 35.8h0M529.9 25.1h0M533.8 198.9h0M533.1 237.3h0M534.4 98.3h0M531.3 99.4h0M531.1 17.1h0M527.4 22.3h0M523.4 98.6h0M536.7 206.9h0M535.6 194.4h0M534.0 161.9h0M527.9 68.2h0M534.4 212.0h0M532.2 69.8h0M536.2 211.9h0M528.5 227.2h0M530.4 224.4h0M529.9 15.9h0M529.0 18.3h0M533.4 208.9h0M529.1 229.7h0M536.2 213.8h0M527.1 258.0h0M532.1 85.6h0M542.5 148.4h0M531.5 215.6h0M528.5 83.0h0M527.6 224.4h0M528.7 23.1h0M529.9 197.9h0M536.3 35.3h0M530.8 134.4h0M533.9 133.6h0M523.9 99.3h0" stroke="#9430b6"/><path d="M530.7 239.7h0M529.1 260.6h0M531.0 197.9h0M531.5 117.3h0M531.0 63.7h0M537.2 164.7h0M534.5 176.8h0M536.0 164.7h0M534.0 215.2h0M532.5 205.1h0M532.2 18.0h0M532.1 86.9h0M526.6 16.7h0M530.1 193.6h0M536.5 129.0h0M539.0 115.9h0M535.5 39.3h0M533.6 148.6h0M530.5 52.1h0M531.7 19.6h0M533.6 35.8h0M536.9 147.5h0M529.3 240.8h0M533.2 189.7h0M536.1 68.8h0M535.1 113.3h0" stroke="#8542c5"/><path d="M531.2 23.0h0M524.1 22.5h0M536.6 214.1h0M532.7 241.8h0M532.3 243.0h0M536.8 208.8h0M531.7 163.4h0M531.4 247.1h0M530.9 259.0h0M525.4 100.9h0M529.6 73.6h0M535.7 161.7h0M522.7 39.7h0M535.0 152.6h0M531.4 135.2h0M541.0 210.5h0M537.0 258.1h0M534.2 226.5h0M530.5 238.5h0M528.5 66.6h0M529.4 23.4h0M533.9 166.9h0M526.6 22.9h0M520.9 18.8h0M534.1 245.7h0M525.2 39.1h0M533.6 162.8h0M532.1 190.2h0" stroke="#cd0095"/><path d="M531.9 243.6h0M533.3 194.0h0M533.4 183.1h0M538.9 210.2h0M530.5 191.3h0M533.5 21.2h0M535.1 227.4h0M531.7 161.5h0M532.3 182.3h0M530.7 163.7h0M533.6 65.6h0M536.3 66.5h0M533.5 181.1h0M532.9 209.7h0M538.0 163.2h0M528.8 36.6h0M532.0 38.5h0M543.5 146.8h0M537.6 225.1h0M535.3 99.6h0M530.4 229.5h0M537.9 149.7h0M539.0 38.0h0M531.8 178.3h0M544.2 39.9h0M532.9 133.3h0M535.8 127.0h0M533.8 225.2h0" stroke="#6f52d4"/><path d="M524.6 68.9h0M532.4 206.1h0M539.0 194.4h0M530.6 240.6h0M528.4 224.5h0M530.6 167.4h0M536.6 144.6h0M535.4 243.7h0M532.1 144.1h0M534.1 118.4h0M541.3 147.5h0M532.0 166.0h0M531.4 148.9h0M540.1 178.2h0M527.9 212.6h0" stroke="#dd0088"/><path d="M531.6 114.4h0M538.1 86.0h0M535.8 226.1h0M527.9 208.0h0M541.7 194.9h0M536.5 226.5h0M523.2 162.7h0M521.9 18.9h0M532.0 199.1h0M532.6 237.0h0M520.2 22.6h0M521.8 131.7h0M532.5 145.9h0M528.6 147.9h0M518.2 38.7h0M523.1 39.2h0M535.8 197.5h0M537.0 241.5h0M529.8 146.8h0M542.4 146.5h0" stroke="#f4006e"/><path d="M509.6 21.3h0M513.1 99.7h0M517.8 162.8h0M520.3 132.3h0M542.9 178.9h0M508.7 36.4h0M501.7 68.3h0M520.9 40.1h0M529.4 147.7h0M511.4 36.7h0M523.7 100.3h0M517.2 162.8h0M543.0 83.9h0M542.1 52.8h0M526.1 211.0h0M508.6 19.3h0M513.1 16.8h0M522.4 162.5h0M506.0 21.2h0M526.4 132.8h0M517.4 100.4h0M514.0 23.5h0M537.7 211.7h0M507.5 22.2h0M518.4 22.2h0M519.2 22.7h0M515.7 21.1h0" stroke="#fc0061"/><path d="M526.4 17.2h0M538.2 180.3h0M530.0 227.5h0M538.7 193.9h0M523.0 23.0h0M531.2 179.9h0M526.2 33.6h0M525.6 17.0h0M527.6 257.0h0M534.1 207.5h0M531.3 237.6h0M525.7 37.7h0M525.4 69.5h0M532.1 230.4h0M531.1 164.6h0M534.1 206.1h0M532.2 147.6h0M535.0 179.9h0M527.4 20.3h0M523.6 18.5h0M530.6 225.6h0M535.0 116.8h0M539.1 35.0h0M525.4 24.9h0M536.0 146.9h0M534.1 243.7h0M530.3 17.7h0M536.7 113.4h0M524.4 257.4h0M521.3 38.8h0M524.5 22.9h0M535.7 180.2h0M535.9 176.6h0M526.2 38.0h0" stroke="#cd0095"/><path d="M532.0 52.6h0M538.9 100.7h0M500.0 115.4h0M525.8 51.2h0M540.5 34.8h0M534.7 253.9h0M549.4 68.4h0M502.0 83.9h0M505.1 84.2h0M528.9 210.3h0M513.7 115.9h0M529.9 86.5h0M514.6 115.3h0M535.3 67.1h0M528.6 179.5h0M523.9 179.4h0M505.5 84.0h0M534.2 36.5h0M510.8 115.8h0M540.1 99.4h0M520.5 52.5h0M532.7 191.2h0M525.5 115.6h0M534.7 126.1h0M534.8 210.1h0M510.8 83.8h0M551.0 34.6h0M509.4 115.8h0M532.2 192.4h0M535.5 256.8h0M530.4 70.9h0M540.2 98.2h0M527.4 178.6h0M539.7 38.4h0M537.3 22.7h0M524.9 53.2h0M520.9 84.1h0M542.1 210.7h0M533.0 51.1h0" stroke="#0081f7"/><path d="M535.2 121.2h0M504.2 84.2h0M555.5 163.3h0M553.2 36.8h0M503.9 52.2h0M532.7 277.0h0M514.1 226.1h0M548.5 163.1h0M537.4 21.4h0M543.9 131.9h0M535.8 227.1h0M501.3 115.6h0M541.7 21.6h0M577.2 20.8h0M532.4 276.3h0M523.0 179.0h0M524.9 51.3h0M493.0 83.8h0M518.5 83.8h0M537.0 102.0h0M478.1 84.0h0M532.5 209.0h0M532.8 256.9h0M516.7 226.2h0M549.4 36.4h0M540.3 97.6h0M540.1 21.1h0M539.9 67.6h0M556.9 37.5h0M590.3 20.3h0M525.3 83.8h0M591.4 20.8h0M508.1 194.7h0M509.4 83.7h0M521.4 179.1h0M533.7 271.4h0M541.4 67.6h0M531.8 195.8h0M534.6 274.0h0M557.9 37.4h0M525.6 178.0h0M537.2 131.2h0M603.5 20.5h0M502.4 194.7h0M535.4 274.3h0M523.6 242.1h0M598.0 20.3h0M534.2 68.5h0M516.0 226.6h0M556.3 36.3h0M533.2 221.9h0M547.7 37.9h0M533.5 270.1h0M546.8 37.6h0M530.3 50.9h0M543.4 34.8h0M503.0 115.3h0M549.0 36.8h0M542.8 20.1h0M497.5 115.4h0M558.7 37.0h0M535.2 112.5h0M495.0 84.2h0M494.6 115.4h0M562.6 36.4h0M551.9 68.2h0M550.3 162.8h0M518.2 115.5h0M547.1 131.2h0M536.8 20.8h0M533.6 127.3h0M541.8 99.7h0M537.7 68.8h0M525.7 54.0h0M532.0 47.6h0M527.4 115.3h0M498.5 83.9h0M526.9 51.9h0M523.3 115.7h0M482.2 242.1h0M496.5 115.7h0M530.7 115.0h0M555.3 36.0h0M540.1 129.0h0" stroke="#008bfb"/><path d="M534.5 151.0h0M530.1 261.8h0M533.1 53.6h0M530.5 71.7h0M535.9 182.1h0M526.2 67.4h0M529.0 161.6h0M534.0 117.3h0M535.6 133.0h0M536.4 192.5h0M530.3 22.2h0M531.0 49.3h0M531.2 196.2h0M542.8 36.2h0M530.1 65.2h0M538.6 149.7h0M536.1 214.9h0M539.9 144.4h0M526.6 18.2h0M533.1 23.6h0M538.5 150.8h0M530.8 37.8h0M532.9 18.1h0M536.6 143.9h0M537.3 99.0h0M521.6 32.7h0M532.3 116.6h0M528.9 19.0h0M533.1 69.0h0M528.2 16.4h0" stroke="#8542c5"/><path d="M529.6 240.9h0M529.5 50.6h0M523.5 257.6h0M531.1 56.3h0M539.9 132.8h0M537.8 150.3h0M535.4 66.1h0M532.9 244.0h0M535.8 196.3h0M535.6 98.7h0M547.2 36.7h0M539.0 130.4h0M540.1 210.8h0M533.1 254.3h0M534.5 20.0h0M528.4 195.6h0M532.3 115.6h0M529.5 206.1h0M536.6 133.1h0M529.9 23.9h0M533.3 224.0h0M532.8 96.7h0M532.2 133.3h0M535.2 20.9h0M533.9 136.2h0M537.6 134.1h0M530.7 82.6h0" stroke="#5261e1"/><path d="M532.3 161.1h0M543.2 257.9h0M509.7 20.2h0M510.6 22.1h0M528.1 273.8h0M537.9 52.7h0M505.1 147.4h0M540.3 116.2h0M512.6 147.3h0M516.5 131.3h0M549.6 52.3h0M515.6 18.3h0M471.0 163.0h0M520.9 147.2h0M532.4 193.0h0M521.5 131.7h0M533.7 88.3h0M508.2 147.0h0M537.6 207.2h0M513.5 163.2h0M503.7 67.9h0M496.6 68.3h0M519.7 147.1h0M505.5 210.6h0M501.2 67.9h0M511.2 23.1h0M529.6 165.6h0M530.6 144.4h0M495.7 67.9h0M538.0 51.8h0M530.4 255.9h0M511.7 131.5h0M503.2 210.5h0M531.5 274.4h0M541.1 51.7h0M512.7 68.1h0M507.2 210.5h0M535.6 190.9h0M514.8 20.6h0M493.5 68.3h0M519.2 20.6h0M546.1 52.4h0M508.7 19.8h0M530.0 238.9h0M528.7 129.7h0M529.7 273.5h0M505.6 20.3h0M516.0 24.3h0M519.8 210.7h0M531.4 222.4h0M511.6 210.6h0M524.8 101.3h0M541.2 194.0h0M518.4 147.5h0M526.6 208.2h0M553.7 52.2h0M509.0 36.4h0M454.8 163.0h0M516.4 162.8h0M472.8 163.0h0M515.0 163.0h0M540.3 194.4h0M529.0 255.3h0M514.6 162.9h0M517.6 37.6h0" stroke="#ff0051"/><path d="M531.9 135.4h0M527.1 40.2h0M539.9 146.4h0M530.9 116.0h0M528.1 34.2h0M533.7 229.4h0M532.0 191.4h0M531.8 259.1h0M537.6 207.9h0M524.0 21.0h0M530.0 47.9h0M532.7 195.4h0M535.9 210.1h0M531.3 54.5h0M537.7 213.1h0M529.6 24.8h0M537.2 143.1h0M532.0 21.4h0M532.8 56.1h0M533.5 256.3h0M529.6 211.8h0M526.8 212.6h0M530.0 197.2h0M526.4 132.0h0M532.8 180.4h0M539.6 148.5h0M541.6 35.0h0M529.0 228.4h0M527.6 21.5h0M534.3 166.2h0M527.4 23.9h0M533.7 179.6h0M535.5 198.4h0M539.2 36.0h0M532.2 260.9h0M534.6 38.4h0M530.6 192.3h0" stroke="#9430b6"/><path d="M539.4 83.2h0M530.4 211.2h0M528.1 40.0h0M533.4 78.8h0M535.7 160.3h0M538.3 35.7h0M536.1 86.9h0M520.8 98.5h0M532.0 17.1h0M522.6 33.4h0M528.1 15.9h0M526.9 225.3h0M533.2 245.0h0M537.9 117.3h0M533.8 130.2h0M541.5 33.5h0M531.0 128.3h0M531.6 206.7h0M528.4 225.3h0M529.3 243.5h0M528.0 65.4h0M532.5 97.7h0M531.6 162.3h0M527.2 38.9h0M533.1 182.1h0M531.3 18.5h0M529.8 63.8h0M532.6 101.6h0M527.3 259.6h0M522.4 21.6h0M530.1 214.4h0M536.1 145.0h0M533.9 184.5h0M528.2 20.3h0M537.1 149.5h0" stroke="#b900a0"/><path d="M538.3 96.8h0M536.9 115.8h0M545.9 38.2h0M539.8 117.3h0M534.0 70.1h0M544.6 226.5h0M537.8 227.3h0M532.6 38.0h0M528.1 207.5h0M539.4 96.8h0M535.0 131.7h0M532.9 226.9h0M531.9 54.2h0M543.6 36.4h0M513.9 194.8h0M535.9 116.1h0M530.0 37.7h0M536.3 99.3h0M536.1 34.4h0M540.4 130.8h0M527.6 209.7h0M534.9 111.0h0" stroke="#0077f2"/><path d="M523.9 33.5h0M526.9 163.8h0M530.1 194.1h0M534.1 150.0h0M518.1 34.1h0M528.7 71.7h0M525.4 20.5h0M535.9 162.8h0M538.1 177.3h0M533.3 159.3h0M534.6 86.9h0M534.1 176.2h0M534.0 86.5h0M534.2 143.4h0M531.3 208.4h0M527.1 70.7h0M535.9 119.2h0M529.2 193.7h0M527.7 72.1h0M531.9 37.2h0M528.6 165.5h0M535.1 198.1h0M536.4 83.6h0M533.3 129.6h0M534.9 161.6h0M527.0 211.9h0M536.0 149.4h0" stroke="#dd0088"/><path d="M525.8 35.4h0M527.3 67.7h0M526.3 256.2h0M532.2 132.3h0M519.5 35.5h0M535.8 223.1h0M531.4 64.1h0M520.2 131.0h0M533.6 114.4h0M528.0 165.4h0M535.4 179.3h0M537.4 85.4h0M525.7 208.9h0M525.4 131.7h0M534.5 82.2h0M528.6 259.5h0M521.8 41.2h0M522.7 40.8h0M533.5 143.6h0M535.4 177.6h0M532.0 80.4h0M529.4 132.0h0M533.7 150.5h0M530.4 146.6h0M529.8 144.7h0M525.3 162.1h0" stroke="#e9007c"/><path d="M534.6 120.3h0M529.3 52.1h0M533.7 79.5h0M536.9 127.2h0M533.9 205.7h0M535.8 97.0h0M533.6 98.6h0M533.6 161.3h0M535.4 36.0h0M534.6 22.5h0M536.6 131.2h0M527.7 69.8h0M534.5 241.2h0M530.9 64.1h0M528.4 258.6h0M530.7 72.7h0M530.4 20.5h0M535.9 128.9h0M530.3 57.5h0M542.8 33.0h0M538.2 134.5h0M530.8 224.0h0M534.5 193.1h0M544.5 37.5h0M531.9 128.7h0M532.1 18.6h0M525.5 33.7h0" stroke="#6f52d4"/><path d="M534.9 103.2h0M529.6 68.2h0M530.9 48.7h0M534.1 22.0h0M533.0 199.0h0M545.4 37.8h0M532.6 237.9h0M538.4 209.8h0M538.3 102.7h0M533.6 20.3h0M530.8 241.8h0M538.9 99.6h0M529.5 62.4h0M529.2 55.1h0M531.8 72.1h0M531.1 35.3h0M537.8 37.8h0M530.4 16.7h0M526.3 51.0h0M535.4 69.0h0M538.5 162.7h0M529.9 178.2h0M530.8 114.3h0M531.1 25.0h0M529.3 180.3h0M523.5 147.3h0M531.2 177.8h0M535.4 86.6h0" stroke="#266cea"/><path d="M527.4 36.8h0M527.3 99.9h0M539.6 145.6h0M533.3 240.5h0M524.7 36.3h0M531.9 197.0h0M534.4 245.0h0M524.8 99.1h0M529.7 34.2h0M534.1 111.1h0M527.5 19.6h0M536.1 112.9h0M534.7 181.8h0M539.6 34.6h0M529.9 69.4h0M539.1 180.8h0M526.1 65.9h0M523.0 17.9h0M531.2 165.3h0M524.4 33.5h0M529.2 51.3h0M538.9 211.3h0M541.1 40.3h0M530.9 261.4h0M539.3 211.9h0M530.0 81.7h0M533.4 103.0h0M536.4 86.2h0M532.7 98.6h0M524.0 31.3h0M530.3 134.0h0M530.0 253.6h0M532.1 159.0h0M523.1 36.2h0M527.5 130.9h0M534.0 53.7h0" stroke="#a71aa9"/><path d="M540.9 178.4h0M533.1 160.4h0M522.1 226.4h0M520.3 21.5h0M526.2 36.0h0M516.5 100.7h0M526.4 131.0h0M519.8 37.0h0M530.0 223.2h0M523.1 100.0h0M531.6 160.9h0M521.3 19.8h0M532.4 224.3h0M512.5 21.9h0M527.8 163.2h0M527.1 255.8h0M536.1 177.7h0" stroke="#f4006e"/><path d="M532.8 87.5h0M539.1 132.9h0M531.8 69.4h0M529.3 223.9h0M530.2 100.5h0M526.3 52.9h0M528.4 207.6h0M538.9 33.6h0M532.3 181.3h0M546.1 38.6h0M536.7 175.0h0M534.7 20.5h0M531.6 34.3h0M536.6 227.8h0M528.1 39.1h0M533.7 259.9h0M537.4 34.0h0M528.4 214.4h0M536.5 131.9h0M529.7 70.7h0M529.0 256.1h0M532.0 51.5h0M538.2 147.6h0M532.1 254.2h0M541.3 132.3h0M533.5 96.7h0M542.4 34.0h0M531.0 243.4h0M527.2 53.6h0M529.8 66.3h0" stroke="#5261e1"/><path d="M532.2 163.2h0M532.0 229.6h0M533.7 244.2h0M533.7 230.3h0M535.1 222.8h0M534.0 54.7h0M520.1 100.9h0M528.9 98.8h0M529.6 245.4h0M539.3 193.4h0M534.7 52.2h0M518.6 33.6h0M533.2 193.5h0M527.1 33.0h0M526.5 40.4h0M527.2 227.1h0M533.6 51.9h0M528.0 146.7h0M520.8 100.3h0M530.3 38.8h0M535.0 230.4h0M521.8 98.0h0M523.6 16.4h0" stroke="#e9007c"/><path d="M536.8 193.7h0M522.1 35.3h0M531.8 227.7h0M533.3 163.8h0M532.2 162.2h0M529.5 133.3h0M529.5 166.7h0M531.6 144.5h0M525.5 31.9h0M532.0 222.1h0M540.5 147.1h0M530.2 99.3h0M529.1 20.1h0M531.0 254.4h0M522.4 35.3h0M535.5 174.3h0M539.2 208.8h0M520.2 33.6h0M533.0 206.9h0M529.6 72.5h0M529.2 70.2h0M542.1 146.0h0" stroke="#cd0095"/><path d="M548.6 38.4h0M544.0 131.0h0M533.9 221.5h0M550.0 34.3h0M520.1 115.7h0M531.0 57.4h0M525.4 52.0h0M529.1 82.6h0M512.4 84.2h0M541.0 21.7h0M547.7 36.3h0M524.7 32.5h0M521.7 179.1h0M537.2 133.3h0M524.5 178.1h0M546.0 68.2h0M533.6 262.6h0M507.0 84.3h0M526.5 179.2h0M526.3 83.9h0M548.6 34.2h0M536.4 19.8h0M539.8 163.2h0M545.4 35.8h0M535.1 119.9h0M527.7 67.3h0M534.7 256.1h0M530.9 259.9h0" stroke="#0081f7"/><path d="M543.7 38.5h0M541.1 209.6h0M527.6 228.1h0M531.1 230.6h0M529.5 213.0h0M529.2 83.5h0M537.1 178.7h0M527.0 65.7h0M529.8 254.7h0M540.0 32.9h0M531.1 101.2h0M536.4 85.6h0M534.2 242.8h0M541.5 39.0h0M533.7 50.0h0M537.2 176.3h0M529.3 15.5h0M538.7 208.8h0M534.0 193.8h0M534.7 135.5h0M533.4 213.1h0M536.7 150.4h0M522.0 40.6h0M539.1 144.5h0M537.2 259.0h0M538.5 148.0h0M532.0 158.4h0M529.8 164.6h0M531.4 129.7h0M531.7 22.5h0M531.3 112.8h0M537.2 36.9h0" stroke="#8542c5"/><path d="M515.2 178.7h0M516.8 24.4h0M513.6 99.9h0M503.8 20.5h0M513.7 17.6h0M522.5 68.2h0M516.2 35.8h0M539.0 178.6h0M506.6 131.6h0M514.6 19.5h0M527.9 147.5h0M540.0 83.1h0M516.9 25.1h0M518.6 99.9h0M518.3 100.8h0M510.7 163.3h0M523.3 163.8h0M527.7 209.2h0M544.4 52.8h0M529.5 149.6h0M518.8 24.2h0M512.0 20.2h0M524.9 132.3h0M531.4 148.1h0M527.4 146.9h0M530.4 67.0h0M517.9 23.1h0M498.1 68.5h0M543.9 53.1h0M535.7 191.8h0M531.3 226.4h0M541.1 52.9h0M530.2 195.2h0M514.6 68.4h0M519.2 21.8h0M518.4 37.3h0M509.7 23.3h0M513.4 36.7h0M517.3 21.4h0M523.4 226.2h0M522.8 163.4h0M517.5 131.8h0M548.4 52.4h0" stroke="#fc0061"/><path d="M532.8 36.0h0M523.0 20.0h0M540.9 39.2h0M536.8 129.9h0M533.1 255.2h0M537.1 151.5h0M527.0 34.9h0M531.1 52.5h0M526.6 32.5h0M540.7 148.6h0M529.5 67.5h0M534.4 149.1h0M532.2 129.5h0M528.2 24.2h0M535.4 34.7h0M525.2 98.4h0M530.1 72.2h0M532.8 19.0h0M523.1 32.4h0M532.6 247.2h0M532.0 214.0h0M535.0 134.8h0M532.6 38.8h0M539.5 36.5h0M532.1 99.5h0M534.8 175.1h0M531.2 223.6h0M531.7 66.1h0M540.9 145.9h0M529.9 100.9h0M528.2 132.3h0M528.7 163.4h0M532.1 24.4h0M531.6 212.6h0" stroke="#9430b6"/><path d="M528.3 130.3h0M525.3 67.0h0M532.5 160.0h0M530.2 131.7h0M533.1 190.4h0M534.3 147.2h0M520.4 39.7h0M534.1 208.2h0M532.0 101.0h0M524.1 19.6h0M526.8 68.8h0M540.3 147.9h0M528.0 162.1h0M523.7 34.1h0M535.2 212.3h0M537.1 180.4h0M519.8 35.8h0M532.6 66.6h0" stroke="#dd0088"/><path d="M533.6 274.4h0M491.1 83.8h0M516.7 83.9h0M530.2 230.0h0M532.6 272.1h0M609.0 21.2h0M507.5 115.7h0M533.7 256.9h0M536.6 259.5h0M552.1 163.0h0M549.7 38.5h0M515.7 52.5h0M540.4 162.8h0M528.4 209.4h0M575.5 20.8h0M541.1 68.8h0M507.1 194.4h0M540.5 131.9h0M543.1 130.4h0M542.0 162.9h0M540.2 129.9h0M596.9 20.7h0M495.6 84.0h0M521.4 257.9h0M521.5 226.4h0M537.2 103.1h0M533.6 111.4h0M545.4 99.5h0M532.5 178.2h0M536.6 96.4h0M542.1 68.9h0M528.8 226.4h0M514.9 194.4h0M605.7 21.2h0M514.0 242.1h0M533.3 276.0h0M534.4 255.2h0M606.8 20.8h0M505.0 242.1h0M538.9 67.2h0M545.4 34.6h0M519.5 52.6h0M536.0 130.8h0M525.6 242.1h0M520.2 194.7h0M559.6 163.2h0M540.8 98.1h0M534.1 126.3h0M557.7 35.9h0M594.7 20.8h0M538.6 21.9h0M533.1 66.7h0M529.3 226.9h0M523.4 194.8h0M544.2 100.1h0M551.2 37.9h0M599.1 20.3h0M527.5 213.8h0M531.5 167.5h0M543.3 163.3h0M532.5 274.0h0M546.4 21.0h0M508.4 115.6h0M629.0 20.8h0M499.7 84.0h0M515.0 83.7h0M551.8 36.9h0M557.4 163.3h0M522.2 52.3h0M518.3 179.0h0M556.3 35.5h0M522.8 52.4h0M550.9 35.6h0M514.6 52.4h0M520.5 83.9h0M536.2 111.1h0M532.8 79.4h0M500.3 84.3h0M549.0 37.5h0M550.3 36.5h0M554.0 35.6h0M540.0 116.4h0M512.9 179.0h0M496.9 83.8h0M510.7 179.0h0M553.5 37.9h0M544.5 20.5h0M539.0 69.0h0M545.3 226.1h0M541.1 20.6h0M533.6 83.8h0M530.5 245.5h0M535.0 228.3h0M602.4 20.4h0M560.8 37.0h0M539.1 226.5h0M498.3 194.7h0M533.0 275.1h0" stroke="#008bfb"/><path d="M517.2 38.4h0M518.2 20.5h0M513.0 24.5h0M517.5 99.6h0M517.6 210.3h0M530.8 270.5h0M524.7 130.6h0M531.3 158.5h0M503.6 131.4h0M510.2 99.6h0M536.1 52.5h0M532.3 146.9h0M506.0 210.2h0M490.8 67.9h0M539.8 177.4h0M531.8 276.4h0M507.7 36.8h0M515.9 210.4h0M514.2 147.2h0M519.1 24.0h0M531.9 277.4h0M516.5 37.1h0M516.3 17.2h0M502.6 147.5h0M530.9 148.1h0M529.8 210.2h0M510.4 131.7h0M530.9 277.6h0M530.1 270.0h0M535.9 241.2h0M518.1 37.6h0M544.9 194.8h0M514.5 99.3h0M517.3 18.4h0M507.9 21.3h0M493.0 68.0h0M513.6 20.5h0M485.8 68.2h0M518.9 68.3h0M511.7 146.9h0M507.3 147.1h0M512.1 68.4h0M511.9 17.5h0M503.4 20.6h0M532.0 269.8h0M510.2 36.7h0M530.7 275.8h0M540.2 53.1h0M517.1 210.3h0M535.8 192.9h0M520.3 38.2h0M532.0 240.8h0M524.2 210.3h0M506.9 21.7h0M526.7 226.4h0M477.7 163.0h0M537.6 112.7h0M513.3 68.5h0M506.2 147.1h0M529.9 274.6h0M539.5 51.7h0M522.1 210.5h0M511.9 99.5h0M525.0 211.0h0M538.9 84.2h0M531.9 222.9h0M494.8 68.4h0M534.3 242.3h0M555.0 52.5h0M512.8 36.6h0M515.1 21.5h0M517.5 24.4h0M514.4 210.6h0M529.9 275.8h0" stroke="#ff0051"/><path d="M535.3 175.5h0M528.9 68.0h0M530.8 242.4h0M531.4 238.6h0M535.6 133.6h0M534.8 226.7h0M533.6 162.0h0M535.6 85.4h0M531.3 71.4h0M519.9 32.4h0M536.2 80.0h0M522.2 39.3h0M520.8 36.9h0M530.6 132.5h0M523.1 36.7h0M535.7 81.6h0M538.8 146.4h0M528.3 241.2h0M524.4 20.6h0M533.0 213.9h0M521.8 36.7h0M537.3 81.7h0M539.0 145.5h0M536.6 176.8h0M536.3 163.7h0M534.5 148.4h0M538.1 176.5h0M539.3 84.8h0M538.2 196.2h0M540.6 145.1h0" stroke="#b900a0"/><path d="M532.2 215.9h0M533.2 166.7h0M532.7 257.9h0M523.6 51.9h0M531.5 116.6h0M534.2 223.6h0M537.3 82.7h0M528.1 54.9h0M529.0 33.6h0M535.7 103.9h0M537.4 100.1h0M533.1 175.9h0M536.3 22.2h0M525.6 194.7h0M544.5 36.8h0M539.4 101.9h0" stroke="#0077f2"/><path d="M530.5 215.4h0M530.4 260.4h0M529.9 53.0h0M533.3 84.2h0M538.3 129.2h0M535.7 135.8h0M535.2 146.7h0M532.1 20.6h0M534.0 95.4h0M534.5 34.2h0M531.9 134.3h0M544.5 146.9h0M536.1 256.4h0M536.5 134.6h0M530.1 84.5h0M534.2 209.8h0M528.3 49.2h0M535.4 88.3h0M531.4 68.4h0M533.4 100.4h0M525.5 15.6h0M544.4 147.8h0M539.6 149.2h0M532.1 55.3h0M530.0 49.0h0M534.2 160.0h0M530.7 209.4h0M535.3 240.3h0M537.2 181.0h0M539.8 150.0h0M527.6 23.1h0M538.6 130.7h0M538.2 34.7h0M532.2 224.7h0M536.2 101.0h0M534.0 190.7h0M533.5 38.0h0" stroke="#6f52d4"/><path d="M519.2 39.3h0M510.2 194.5h0M525.4 210.0h0M538.8 213.3h0M526.3 20.1h0M536.5 224.5h0M524.9 98.3h0M526.8 258.5h0M532.6 244.8h0M528.7 148.4h0M527.4 133.2h0M515.8 16.7h0M521.7 34.6h0M527.9 69.1h0M536.2 84.5h0M524.3 132.1h0M534.9 84.0h0M537.0 86.3h0M519.6 19.6h0M539.3 178.1h0M524.3 31.6h0" stroke="#f4006e"/><path d="M527.4 52.5h0M531.8 195.4h0M535.4 20.1h0M537.0 164.2h0M529.4 194.9h0M531.1 38.4h0M539.3 19.3h0M531.4 114.0h0M536.6 258.2h0M536.6 98.2h0M536.2 119.9h0M528.3 177.7h0M538.2 100.7h0M545.2 36.8h0M535.7 209.1h0M531.5 130.2h0M529.9 55.0h0M534.9 117.9h0M534.4 96.6h0M530.3 37.3h0M529.8 47.2h0M531.4 179.5h0M533.0 207.8h0" stroke="#266cea"/><path d="M530.2 130.3h0M532.5 49.9h0M535.2 241.2h0M529.9 85.7h0M540.1 211.8h0M533.3 210.8h0M528.6 18.6h0M532.1 84.1h0M525.4 33.2h0M537.4 242.7h0M525.0 131.1h0M528.5 100.9h0M527.0 38.1h0M533.4 97.5h0M526.5 23.8h0M541.7 145.9h0M535.4 163.4h0M536.3 147.8h0M524.8 37.4h0M527.9 131.8h0M529.9 70.0h0M532.2 84.7h0M533.9 102.4h0M534.9 115.1h0M528.7 72.7h0M539.8 83.5h0M532.5 168.0h0M532.7 132.5h0M529.3 21.2h0M532.2 113.6h0" stroke="#a71aa9"/></g>
<line x1="421.2" y1="289.4" x2="647" y2="289.4" stroke="#333" stroke-width="0.8"/>
<line x1="446.3" y1="289.4" x2="446.3" y2="291.6" stroke="#333" stroke-width="0.7"/>
<text transform="translate(445.80 301.70) scale(1 1.080)" font-size="10.00" text-anchor="middle">-0.4</text>
<line x1="489.4" y1="289.4" x2="489.4" y2="291.6" stroke="#333" stroke-width="0.7"/>
<text transform="translate(488.90 301.70) scale(1 1.080)" font-size="10.00" text-anchor="middle">-0.2</text>
<line x1="532.5" y1="289.4" x2="532.5" y2="291.6" stroke="#333" stroke-width="0.7"/>
<text transform="translate(532.00 301.70) scale(1 1.080)" font-size="10.00" text-anchor="middle">0.0</text>
<line x1="575.6" y1="289.4" x2="575.6" y2="291.6" stroke="#333" stroke-width="0.7"/>
<text transform="translate(575.10 301.70) scale(1 1.080)" font-size="10.00" text-anchor="middle">0.2</text>
<line x1="618.7" y1="289.4" x2="618.7" y2="291.6" stroke="#333" stroke-width="0.7"/>
<text transform="translate(618.20 301.70) scale(1 1.080)" font-size="10.00" text-anchor="middle">0.4</text>
<text transform="translate(533.20 315.85) scale(1 1.040)" font-size="9.64" text-anchor="middle">SHAP value</text>
<rect x="661.1" y="4.8" width="2.6" height="284.8" fill="url(#cb)"/>
<text x="665.7" y="7.0" font-size="9.3">High</text>
<text x="667.1" y="291.8" font-size="9.3">Low</text>
<text transform="translate(676.8 151.6) rotate(-90)" font-size="9.4" text-anchor="middle">Feature value</text>
</svg></body></html>
